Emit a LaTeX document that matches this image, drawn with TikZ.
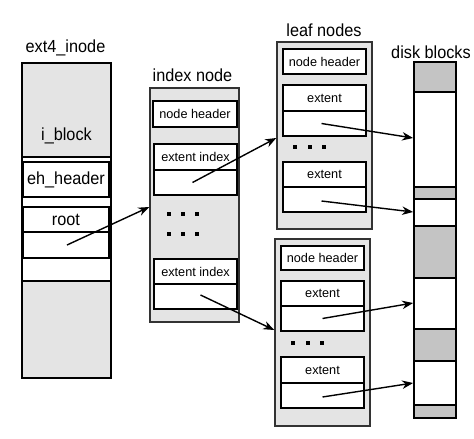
\documentclass[tikz,border=0pt]{standalone}
\usepackage{fontspec}
\setmainfont{Liberation Sans}
\newfontfamily\bigfamily[FakeStretch=0.93]{Liberation Sans}
\usetikzlibrary{arrows.meta}
\definecolor{contfill}{HTML}{E4E4E4}
\definecolor{diskgray}{HTML}{C4C4C4}
\definecolor{contborder}{HTML}{333333}
\tikzset{
  cont/.style={draw=contborder, line width=1.5pt, fill=contfill, inner sep=0pt},
  cell/.style={draw=black, line width=1.8pt, fill=white, inner sep=0pt},
  bigtxt/.style={font=\bigfamily\fontsize{17.5}{19}\selectfont, inner sep=0pt},
  smalltxt/.style={font=\fontsize{12.7}{14}\selectfont},
  diskw/.style={draw=black, line width=1.8pt, fill=white, inner sep=0pt, minimum width=42pt},
  diskg/.style={draw=black, line width=1.8pt, fill=diskgray, inner sep=0pt, minimum width=42pt},
  dotmark/.style={fill=black, inner sep=0pt, minimum size=3.2pt},
  ptr/.style={line width=1.4pt, -{Stealth[length=11pt,width=8.5pt]}}
}
\begin{document}
\begin{tikzpicture}[x=1pt,y=-1pt]
\useasboundingbox (0,0) rectangle (474,439);
% ---------------- ext4_inode ----------------
\node[bigtxt] (inodelabel) at (65.5,48) {ext4\_inode};
\node[draw=black, line width=1.5pt, fill=white, inner sep=0pt, minimum width=89pt, minimum height=315pt] (inode) at (66.5,220.5) {};
\node[draw=black, line width=1.5pt, fill=contfill, inner sep=0pt, minimum width=89pt, minimum height=94pt] (iblock) at (66.5,110) {};
\node[draw=black, line width=1.5pt, fill=contfill, inner sep=0pt, minimum width=89pt, minimum height=97pt] (ibottom) at (66.5,329.5) {};
\node[bigtxt] (iblocklabel) at (66.5,136) {i\_block};
\node[cell, bigtxt, minimum width=86pt, minimum height=35pt] (eh) at (66,179.5) {eh\_header};
\node[cell, bigtxt, minimum width=86pt, minimum height=25pt] (root) at (66,219.5) {root};
\node[cell, minimum width=86pt, minimum height=26pt] (rootptr) at (66,245) {};
% ---------------- index node ----------------
\node[bigtxt] (idxlabel) at (192.5,75) {index node};
\node[cont, minimum width=89pt, minimum height=234pt] (idx) at (194.5,205) {};
\node[cell, smalltxt, minimum width=84pt, minimum height=26pt] (idxhdr) at (195,114) {node header};
\node[cell, smalltxt, minimum width=83pt, minimum height=26pt] (ei1) at (195.5,157) {extent index};
\node[cell, minimum width=83pt, minimum height=25pt] (ei1p) at (195.5,182.5) {};
\node[cell, smalltxt, minimum width=83pt, minimum height=25pt] (ei2) at (195.5,271.5) {extent index};
\node[cell, minimum width=83pt, minimum height=25pt] (ei2p) at (195.5,296.5) {};
\node[dotmark] (d1) at (169,214) {};
\node[dotmark] (d2) at (183,214) {};
\node[dotmark] (d3) at (197,214) {};
\node[dotmark] (d4) at (169,234) {};
\node[dotmark] (d5) at (183,234) {};
\node[dotmark] (d6) at (197,234) {};
% ---------------- leaf nodes ----------------
\node[bigtxt] (leaflabel) at (324,30) {leaf nodes};
\node[cont, minimum width=95pt, minimum height=187pt] (leafa) at (324.5,135.5) {};
\node[cell, smalltxt, minimum width=83pt, minimum height=25pt] (lahdr) at (324.5,61.5) {node header};
\node[cell, smalltxt, minimum width=83pt, minimum height=26pt] (la1) at (324.5,98) {extent};
\node[cell, minimum width=83pt, minimum height=25pt] (la1p) at (324.5,123.5) {};
\node[cell, smalltxt, minimum width=83pt, minimum height=25pt] (la2) at (324.5,174.5) {extent};
\node[cell, minimum width=83pt, minimum height=25pt] (la2p) at (324.5,199.5) {};
\node[dotmark] (d7) at (295,147) {};
\node[dotmark] (d8) at (310,147) {};
\node[dotmark] (d9) at (324,147) {};
\node[cont, minimum width=95pt, minimum height=187pt] (leafb) at (322.5,332.5) {};
\node[cell, smalltxt, minimum width=83pt, minimum height=24pt] (lbhdr) at (322.5,258) {node header};
\node[cell, smalltxt, minimum width=83pt, minimum height=25pt] (lb1) at (322.5,293.5) {extent};
\node[cell, minimum width=83pt, minimum height=25pt] (lb1p) at (322.5,318.5) {};
\node[cell, smalltxt, minimum width=83pt, minimum height=26pt] (lb2) at (322.5,370) {extent};
\node[cell, minimum width=83pt, minimum height=25pt] (lb2p) at (322.5,395.5) {};
\node[dotmark] (d10) at (293,343) {};
\node[dotmark] (d11) at (308,343) {};
\node[dotmark] (d12) at (322,343) {};
% ---------------- disk blocks ----------------
\node[bigtxt] (disklabel) at (431,52) {disk blocks};
\node[diskg, minimum height=30pt] (b1) at (435,77) {};
\node[diskw, minimum height=95pt] (b2) at (435,139.5) {};
\node[diskg, minimum height=12pt] (b3) at (435,193) {};
\node[diskw, minimum height=27pt] (b4) at (435,212.5) {};
\node[diskg, minimum height=52pt] (b5) at (435,252) {};
\node[diskw, minimum height=51pt] (b6) at (435,303.5) {};
\node[diskg, minimum height=32pt] (b7) at (435,345) {};
\node[diskw, minimum height=44pt] (b8) at (435,383) {};
\node[diskg, minimum height=13pt] (b9) at (435,411.5) {};
% ---------------- pointers ----------------
\coordinate (tidx) at (idx.west |- 0,207);
\coordinate (tla) at (leafa.west |- 0,138);
\coordinate (tlb) at (leafb.west |- 0,330);
\coordinate (tb2) at (b2.west |- 0,138);
\coordinate (tb4) at (b4.west |- 0,212);
\coordinate (tb6) at (b6.west |- 0,303);
\coordinate (tb8) at (b8.west |- 0,383);
\draw[ptr] ([xshift=1pt]rootptr.center) -- (tidx);
\draw[ptr] ([xshift=-3pt]ei1p.center) -- (tla);
\draw[ptr] ([xshift=5pt,yshift=1.5pt]ei2p.center) -- (tlb);
\draw[ptr] ([xshift=-3pt]la1p.center) -- (tb2);
\draw[ptr] ([xshift=-3pt,yshift=-1.5pt]la2p.center) -- (tb4);
\draw[ptr] ([xshift=0pt]lb1p.center) -- (tb6);
\draw[ptr] ([xshift=0pt,yshift=-1.5pt]lb2p.center) -- (tb8);
\end{tikzpicture}
\end{document}
